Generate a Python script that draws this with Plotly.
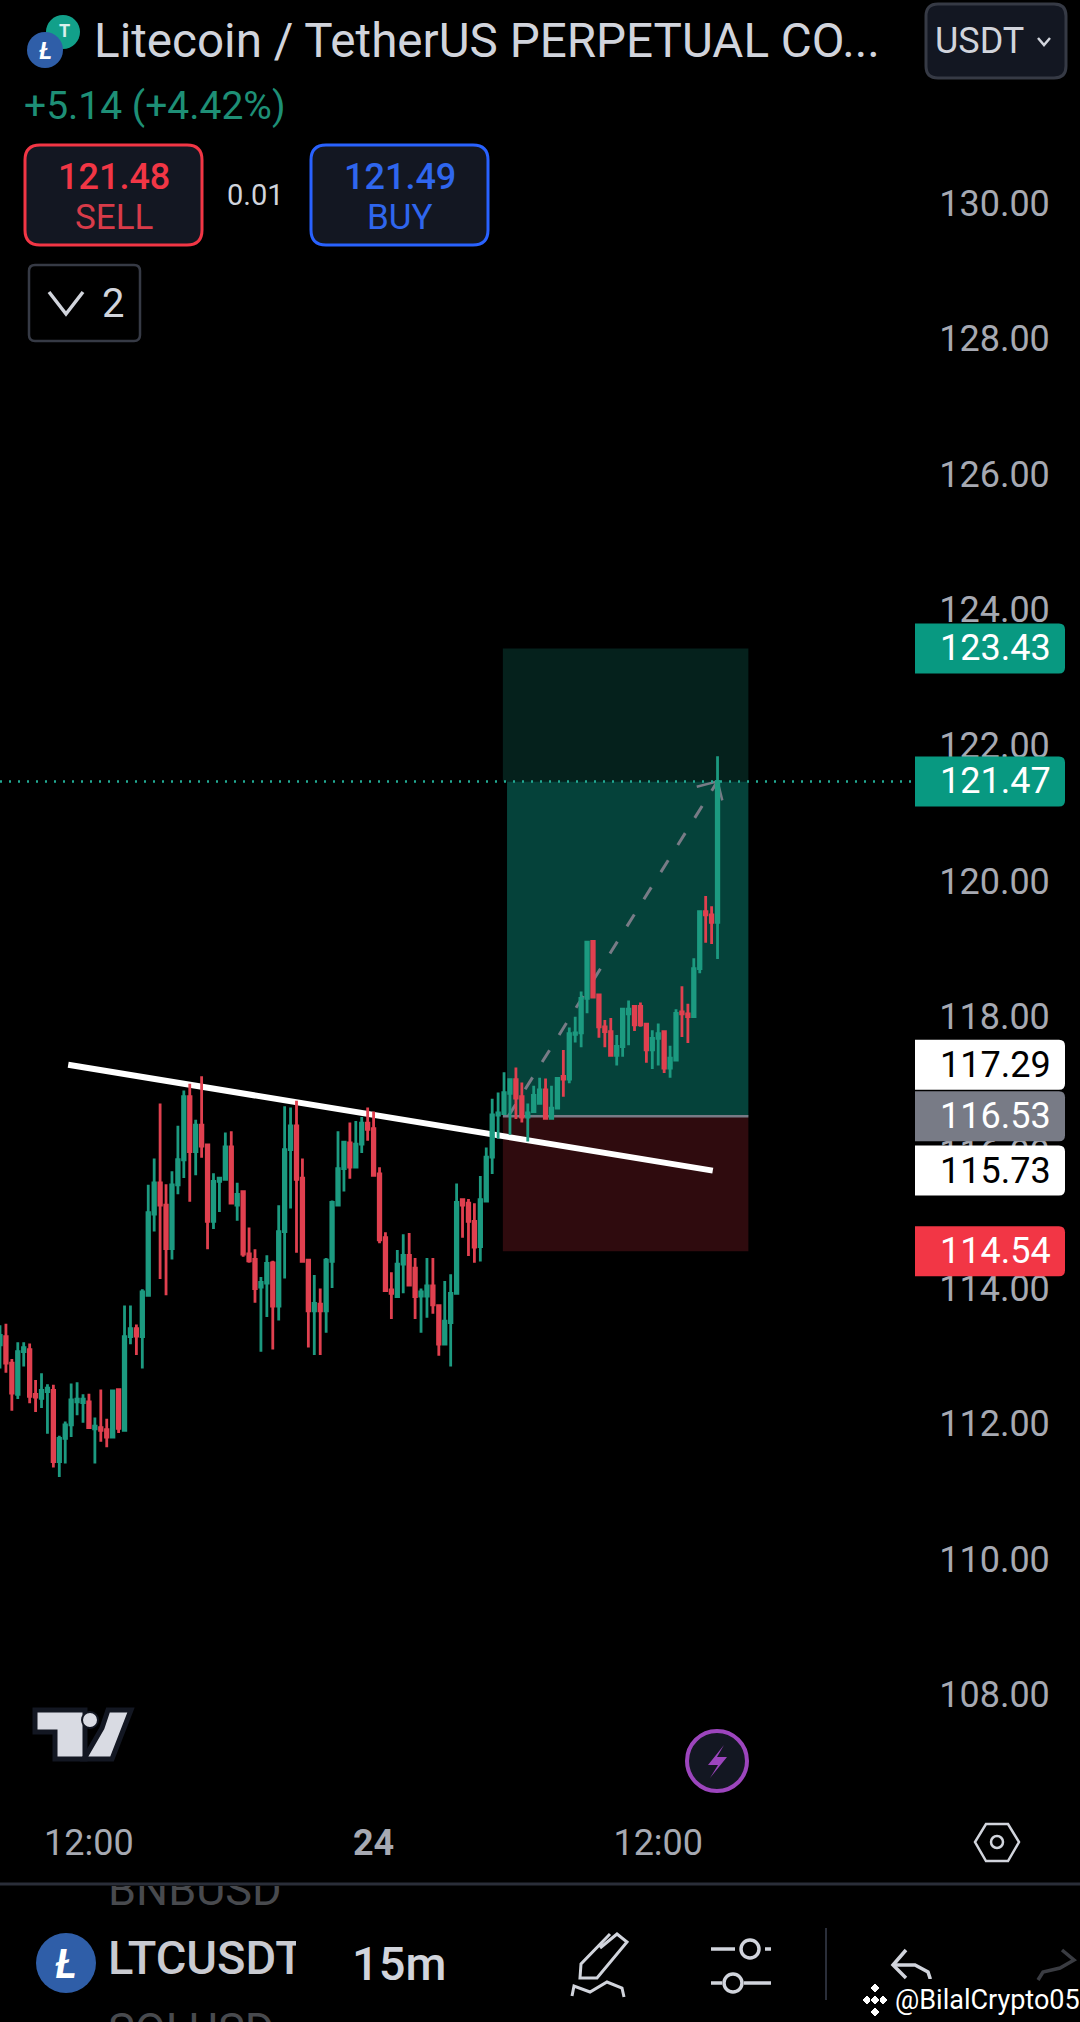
import pandas as pd
import plotly.graph_objects as go

# 15m candles
opens = [113.16,113.28,112.89,112.43,113.06,113.09,112.43,112.37,112.47,112.49,111.44,111.78,111.98,112.32,112.31,112.32,
         111.92,111.94,111.91,111.80,112.50,111.90,113.28,113.40,113.28,113.89,115.09,115.55,115.22,114.58,115.52,115.89,
         116.82,116.01,116.40,116.11,114.98,115.57,115.60,116.08,115.22,115.42,114.50,114.42,114.01,114.07,114.37,113.73,
         114.83,116.04,116.39,115.62,114.41,113.66,113.76,113.66,114.39,115.22,115.76,116.14,115.78,116.12,116.43,116.35,
         115.68,114.74,113.97,113.87,114.35,114.48,114.29,113.88,113.88,114.03,113.74,113.17,113.49,113.92,115.30,115.25,
         114.98,114.61,115.28,115.93,116.55,116.57,116.87,117.07,116.82,116.52,116.60,116.72,116.92,116.50,116.65,117.12,
         117.08,117.74,117.76,118.27,119.11,118.32,117.85,117.78,117.43,117.56,118.04,118.15,118.15,117.89,117.51,117.68,
         117.78,117.24,117.36,118.07,118.04,118.00,118.71,119.55,119.50,119.39]
highs = [113.45,113.47,112.95,113.20,113.20,113.18,112.64,112.74,112.58,112.57,111.82,112.03,112.59,112.61,112.43,112.44,
         112.09,112.50,112.07,112.49,112.52,113.74,113.74,113.46,113.98,115.52,115.91,116.72,115.53,115.72,116.39,116.91,
         117.01,116.48,117.12,116.13,115.69,115.63,116.29,116.31,115.55,115.44,114.89,114.57,114.16,114.48,114.40,115.22,
         116.68,116.66,116.76,115.91,114.42,114.19,113.99,114.44,115.29,116.31,116.15,116.44,116.46,116.52,116.66,116.60,
         115.78,114.82,114.23,114.56,114.79,114.81,114.44,113.99,114.44,114.44,113.75,114.10,114.20,115.54,115.32,115.31,
         115.25,115.65,116.07,116.79,116.88,117.18,117.07,117.25,117.03,116.72,116.98,117.10,117.09,116.98,117.09,117.51,
         117.84,118.00,118.37,119.10,119.12,118.34,117.95,117.98,117.73,118.12,118.24,118.16,118.21,117.90,117.80,117.90,
         117.78,117.57,118.11,118.45,118.19,118.86,119.55,119.78,119.63,121.84]
lows = [112.81,112.75,112.19,112.36,112.84,112.30,112.17,112.23,111.85,111.35,111.21,111.41,111.80,112.12,112.01,111.94,
        111.41,111.73,111.65,111.80,111.86,111.90,113.17,113.01,112.81,113.87,114.83,114.13,113.89,114.42,115.38,115.62,
        115.27,115.66,115.92,114.57,114.87,115.12,115.60,115.25,114.99,114.46,114.37,113.78,113.06,113.57,113.09,113.52,
        114.14,115.17,114.52,114.37,113.12,113.01,113.01,113.34,114.00,115.22,115.42,115.61,115.78,115.99,116.17,115.65,
        114.66,113.96,113.54,113.85,113.92,114.03,113.54,113.34,113.56,113.62,113.00,113.16,112.84,113.90,114.74,114.47,
        114.37,114.39,115.28,115.68,116.20,116.55,116.26,116.49,116.44,116.16,116.60,116.71,116.49,116.50,116.63,116.82,
        117.02,117.62,117.55,118.05,118.29,117.69,117.55,117.42,117.28,117.41,117.58,117.79,117.85,117.32,117.23,117.28,
        117.17,117.10,117.35,117.70,117.61,118.00,118.64,119.09,119.07,118.85]
closes = [113.30,112.89,112.45,113.06,113.12,112.40,112.39,112.49,112.52,111.44,111.78,111.98,112.35,112.36,112.36,111.94,
          111.96,111.90,111.80,112.48,111.93,113.28,113.40,113.29,113.94,115.11,115.55,115.22,114.58,115.52,115.89,116.82,
          116.01,116.40,116.09,114.98,115.57,115.62,116.08,115.25,115.38,114.50,114.40,113.99,114.08,114.36,113.73,114.83,
          116.04,116.39,115.60,114.39,113.66,113.77,113.66,114.41,115.26,115.76,116.15,115.78,116.12,116.43,116.34,115.66,
          114.71,113.96,113.92,114.35,114.48,114.04,113.87,113.94,114.03,113.75,113.17,113.51,113.92,115.26,115.22,114.98,
          114.60,115.30,115.93,116.55,116.58,116.88,117.07,116.80,116.52,116.58,116.84,116.92,116.50,116.65,117.09,117.08,
          117.75,117.76,118.27,119.10,118.29,117.85,117.78,117.43,117.56,118.11,118.11,117.88,117.88,117.51,117.68,117.75,
          117.24,117.39,118.05,118.04,118.00,118.71,119.55,119.50,119.39,121.47]

y_ticks = [108, 110, 112, 114, 116, 118, 120, 122, 124, 126, 128, 130]
x_tick_labels = ["12:00", "<b>24</b>", "12:00"]

target_price = 123.43
last_price = 121.47
entry_price = 116.53
stop_price = 114.54
trend_start_price = 117.29
trend_end_price = 115.73

GREEN = "#1c9a80"
RED = "#e0404f"
TAG_GREEN = "#089981"
TAG_RED = "#f23645"
GREY = "#787b86"
TEXT = "#d1d4dc"
AXIS_TEXT = "#a6a9b2"
PANEL = "#131722"
BORDER = "#363a45"
FONT = "Roboto"

W, H = 1080, 2022
PLOT_RIGHT = 915
PLOT_BOTTOM = 1810
STEP = pd.Timedelta(minutes=15)
start = pd.Timestamp("2023-06-23 08:15")
times = [start + STEP * i for i in range(len(opens))]


def t(i):
    return start + STEP * i


def X(v):
    return v / W


def Y(v):
    return 1 - v / H


def poly(points, close=False):
    out = "M " + " L ".join(f"{X(a):.5f} {Y(b):.5f}" for a, b in points)
    return out + (" Z" if close else "")


def round_box(x0, y0, x1, y1, r):
    return (f"M {X(x0 + r):.5f} {Y(y0):.5f} L {X(x1 - r):.5f} {Y(y0):.5f} Q {X(x1):.5f} {Y(y0):.5f} {X(x1):.5f} {Y(y0 + r):.5f} "
            f"L {X(x1):.5f} {Y(y1 - r):.5f} Q {X(x1):.5f} {Y(y1):.5f} {X(x1 - r):.5f} {Y(y1):.5f} "
            f"L {X(x0 + r):.5f} {Y(y1):.5f} Q {X(x0):.5f} {Y(y1):.5f} {X(x0):.5f} {Y(y1 - r):.5f} "
            f"L {X(x0):.5f} {Y(y0 + r):.5f} Q {X(x0):.5f} {Y(y0):.5f} {X(x0 + r):.5f} {Y(y0):.5f} Z")


shapes = []
annotations = []


def ui_path(path, fill=None, line=None, width=0):
    shapes.append(dict(type="path", xref="paper", yref="paper", path=path, fillcolor=fill or "rgba(0,0,0,0)",
                       line=dict(color=line or "rgba(0,0,0,0)", width=width), layer="above"))


def ui_circle(cx, cy, r, fill=None, line=None, width=0):
    shapes.append(dict(type="circle", xref="paper", yref="paper", x0=X(cx - r), x1=X(cx + r), y0=Y(cy + r), y1=Y(cy - r),
                       fillcolor=fill or "rgba(0,0,0,0)", line=dict(color=line or "rgba(0,0,0,0)", width=width), layer="above"))


def label(x, y, text, size, color, anchor="center", weight=400, family=FONT):
    annotations.append(dict(xref="paper", yref="paper", x=X(x), y=Y(y), text=text, showarrow=False, xanchor=anchor,
                            yanchor="middle", font=dict(family=family, size=size, color=color, weight=weight)))


def draw_line(i0, p0, i1, p1, color, width, dash="solid"):
    shapes.append(dict(type="line", x0=t(i0), x1=t(i1), y0=p0, y1=p1, layer="below",
                       line=dict(color=color, width=width, dash=dash)))


# long position tool
box_l, box_r = 84.8, 126.2
for lo, hi, col, left in [(last_price, target_price, "#05211c", box_l), (entry_price, last_price, "#05423a", box_l + 0.7),
                          (stop_price, entry_price, "#2f0b0e", box_l)]:
    shapes.append(dict(type="rect", x0=t(left), x1=t(box_r), y0=lo, y1=hi, fillcolor=col, line_width=0, layer="below"))
draw_line(box_l, entry_price, box_r, entry_price, GREY, 2.5)
draw_line(85.7, entry_price, 121, last_price, GREY, 3, "14px,18px")
draw_line(117.5, 121.39, 121, last_price, GREY, 2.5)
draw_line(121.8, 121.19, 121, last_price, GREY, 2.5)

# white trend line
draw_line(11.5, trend_start_price, 120.2, trend_end_price, "#ffffff", 6)

# last price dotted line
shapes.append(dict(type="line", xref="x domain", x0=0, x1=1, y0=last_price, y1=last_price, layer="above",
                   line=dict(color="#22ab94", width=2.5, dash="2px,7px")))

# price tags on the axis
TAG_PATH = "M 0 -25 L 144 -25 Q 150 -25 150 -19 L 150 19 Q 150 25 144 25 L 0 25 Z"
tags = [(target_price, TAG_GREEN, "#ffffff"), (last_price, TAG_GREEN, "#ffffff"), (trend_start_price, "#ffffff", "#000000"),
        (entry_price, GREY, "#ffffff"), (trend_end_price, "#ffffff", "#000000"), (stop_price, TAG_RED, "#ffffff")]
for price, bg, fg in tags:
    shapes.append(dict(type="path", xref="paper", yref="y", xsizemode="pixel", ysizemode="pixel", xanchor=X(PLOT_RIGHT),
                       yanchor=price, path=TAG_PATH, fillcolor=bg, line_width=0, layer="above"))
    annotations.append(dict(xref="paper", yref="y", x=X(995), y=price, xanchor="center", text=f"{price:.2f}", showarrow=False,
                            font=dict(family=FONT, size=36, color=fg)))

# header
ui_circle(63, 32, 17, fill="#12a08a")
ui_circle(45, 50, 18, fill="#2f5ea8")
label(45, 51, "<i><b>Ł</b></i>", 24, "#ffffff")
label(64, 31, "<b>T</b>", 18, "#d8f0ec")
label(92, 41, "Litecoin / TetherUS PERPETUAL CO...", 47.6, TEXT, "left")
label(22, 106, "+5.14 (+4.42%)", 39, "#1e8f76", "left")
ui_path(round_box(25, 145, 202, 245, 15), fill=PANEL, line=TAG_RED, width=3)
label(113.5, 177, "121.48", 36, TAG_RED, weight=500)
label(113.5, 217, "SELL", 35, "#d83b49")
label(255, 195, "0.01", 29, TEXT)
ui_path(round_box(311, 145, 488, 245, 15), fill=PANEL, line="#2962ff", width=3)
label(399.5, 177, "121.49", 36, "#2f66ee", weight=500)
label(399.5, 217, "BUY", 35, "#2f66ee")
ui_path(round_box(926, 4, 1066, 78, 12), fill=PANEL, line=BORDER, width=3)
label(979, 41, "USDT", 36, TEXT)
ui_path(poly([(1038, 38), (1044, 45), (1050, 38)]), line=TEXT, width=2.5)
ui_path(round_box(29, 265, 140, 341, 6), line=BORDER, width=2.5)
ui_path(poly([(49, 292), (66, 314), (83, 292)]), line=TEXT, width=3.5)
label(113, 303, "2", 40, TEXT)

# watermark logo, lightning badge, axis icon
logo_fill = "#d9dbe3"
ui_path(poly([(35, 1710), (85, 1710), (85, 1759), (55, 1759), (55, 1732), (35, 1732)], True), fill=logo_fill, line=PANEL, width=5)
ui_path(poly([(131, 1710), (112, 1759), (84, 1759), (102, 1728), (108, 1710)], True), fill=logo_fill, line=PANEL, width=5)
ui_circle(90, 1720, 8, fill=logo_fill, line=PANEL, width=2)
ui_circle(717, 1761, 30, fill=PANEL, line="#9c45bd", width=4)
ui_path(poly([(724, 1745), (708, 1765), (718, 1765), (710, 1778), (727, 1757), (717, 1757)], True), fill="#9c45bd")
ui_path(poly([(986, 1824), (1008, 1824), (1019, 1842), (1008, 1861), (986, 1861), (975, 1842)], True), line=TEXT, width=2.5)
ui_circle(997, 1842, 6, line=TEXT, width=2.5)

# bottom bar
shapes.append(dict(type="line", xref="paper", yref="paper", x0=0, x1=1, y0=Y(1884), y1=Y(1884), layer="above",
                   line=dict(color="#2a2e39", width=3)))
ui_circle(66, 1963, 30, fill="#2f5ea8")
label(66, 1964, "<i><b>Ł</b></i>", 40, "#ffffff")
label(350, 1963, "15m", 47, TEXT, "left", 500)
ui_path(poly([(600, 1948), (617, 1934), (627, 1942), (597, 1978), (580, 1978), (581, 1964), (610, 1934)]), line=TEXT, width=3)
ui_path(poly([(572, 1996), (574, 1986), (590, 1992), (607, 1982), (622, 1988), (624, 1997)]), line=TEXT, width=3)
ui_path(poly([(711, 1949), (735, 1949)]), line=TEXT, width=3.5)
ui_path(poly([(765, 1949), (771, 1949)]), line=TEXT, width=3.5)
ui_circle(750, 1949, 9, line=TEXT, width=3.5)
ui_path(poly([(711, 1983), (722, 1983)]), line=TEXT, width=3.5)
ui_path(poly([(744, 1983), (771, 1983)]), line=TEXT, width=3.5)
ui_circle(733, 1983, 9, line=TEXT, width=3.5)
ui_path(poly([(826, 1928), (826, 2000)]), line="#2a2e39", width=2)
ui_path(poly([(906, 1950), (893, 1965), (906, 1978)]), line=TEXT, width=3.5)
ui_path(poly([(893, 1965), (915, 1965), (928, 1972), (930, 1978), (930, 1979)]), line=TEXT, width=3.5)
ui_path(poly([(1062, 1950), (1074, 1960), (1060, 1968), (1043, 1972), (1038, 1980)]), line="#3a3c42", width=3.5)

# exchange watermark
for cx, cy in [(875, 1988), (867, 2000), (883, 2000), (875, 2000), (875, 2012)]:
    ui_path(poly([(cx, cy - 5), (cx + 5, cy), (cx, cy + 5), (cx - 5, cy)], True), fill="#ffffff", line="#000000", width=1)
label(893, 2000, "@BilalCrypto05", 27, "#ffffff", "left")

fig = go.Figure()
fig.add_trace(go.Candlestick(
    x=times, open=opens, high=highs, low=lows, close=closes,
    increasing=dict(line=dict(color=GREEN, width=2.8), fillcolor=GREEN),
    decreasing=dict(line=dict(color=RED, width=2.8), fillcolor=RED),
    whiskerwidth=0, showlegend=False, hoverinfo="skip",
))
# symbol scroller at the bottom, clipped by its own little subplot
fig.add_trace(go.Scatter(
    x=[108, 108, 108], y=[1894, 1962, 2034], mode="text", xaxis="x2", yaxis="y2", cliponaxis=True,
    text=["BNBUSD", "LTCUSDT", "SOLUSD"], textposition="middle right", showlegend=False, hoverinfo="skip",
    textfont=dict(family=FONT, size=[45, 47, 45], color=["#484a4e", "#c9cad0", "#484a4e"], weight=[400, 500, 400]),
))

fig.update_layout(
    width=W, height=H, autosize=False,
    margin=dict(l=0, r=0, t=0, b=0),
    paper_bgcolor="#000000", plot_bgcolor="#000000",
    boxgap=0.4,
    shapes=shapes, annotations=annotations,
    xaxis=dict(domain=[0, PLOT_RIGHT / W], range=[t(0), t(PLOT_RIGHT / 5.93)], rangeslider=dict(visible=False),
               showgrid=False, zeroline=False, showline=False, anchor="y",
               tickmode="array", tickvals=[t(15), t(63), t(111)], ticktext=x_tick_labels,
               ticks="outside", ticklen=1, tickcolor="rgba(0,0,0,0)",
               tickfont=dict(family=FONT, size=36, color=AXIS_TEXT)),
    yaxis=dict(domain=[1 - PLOT_BOTTOM / H, 1], range=[106.30, 132.994], side="right", anchor="x",
               showgrid=False, zeroline=False, showline=False,
               tickmode="array", tickvals=y_ticks, ticktext=[f"{v:.2f}" for v in y_ticks],
               ticks="outside", ticklen=16, tickcolor="rgba(0,0,0,0)",
               tickfont=dict(family=FONT, size=36, color=AXIS_TEXT)),
    xaxis2=dict(domain=[X(100), X(296)], range=[100, 296], visible=False, anchor="y2"),
    yaxis2=dict(domain=[0, 1 - 1886 / H], range=[2022, 1886], visible=False, anchor="x2"),
)

# the page has a default body margin, drop it so the figure sits at 0,0
fig.write_html("out.html", config=dict(displayModeBar=False), post_script="document.body.style.margin='0';")
